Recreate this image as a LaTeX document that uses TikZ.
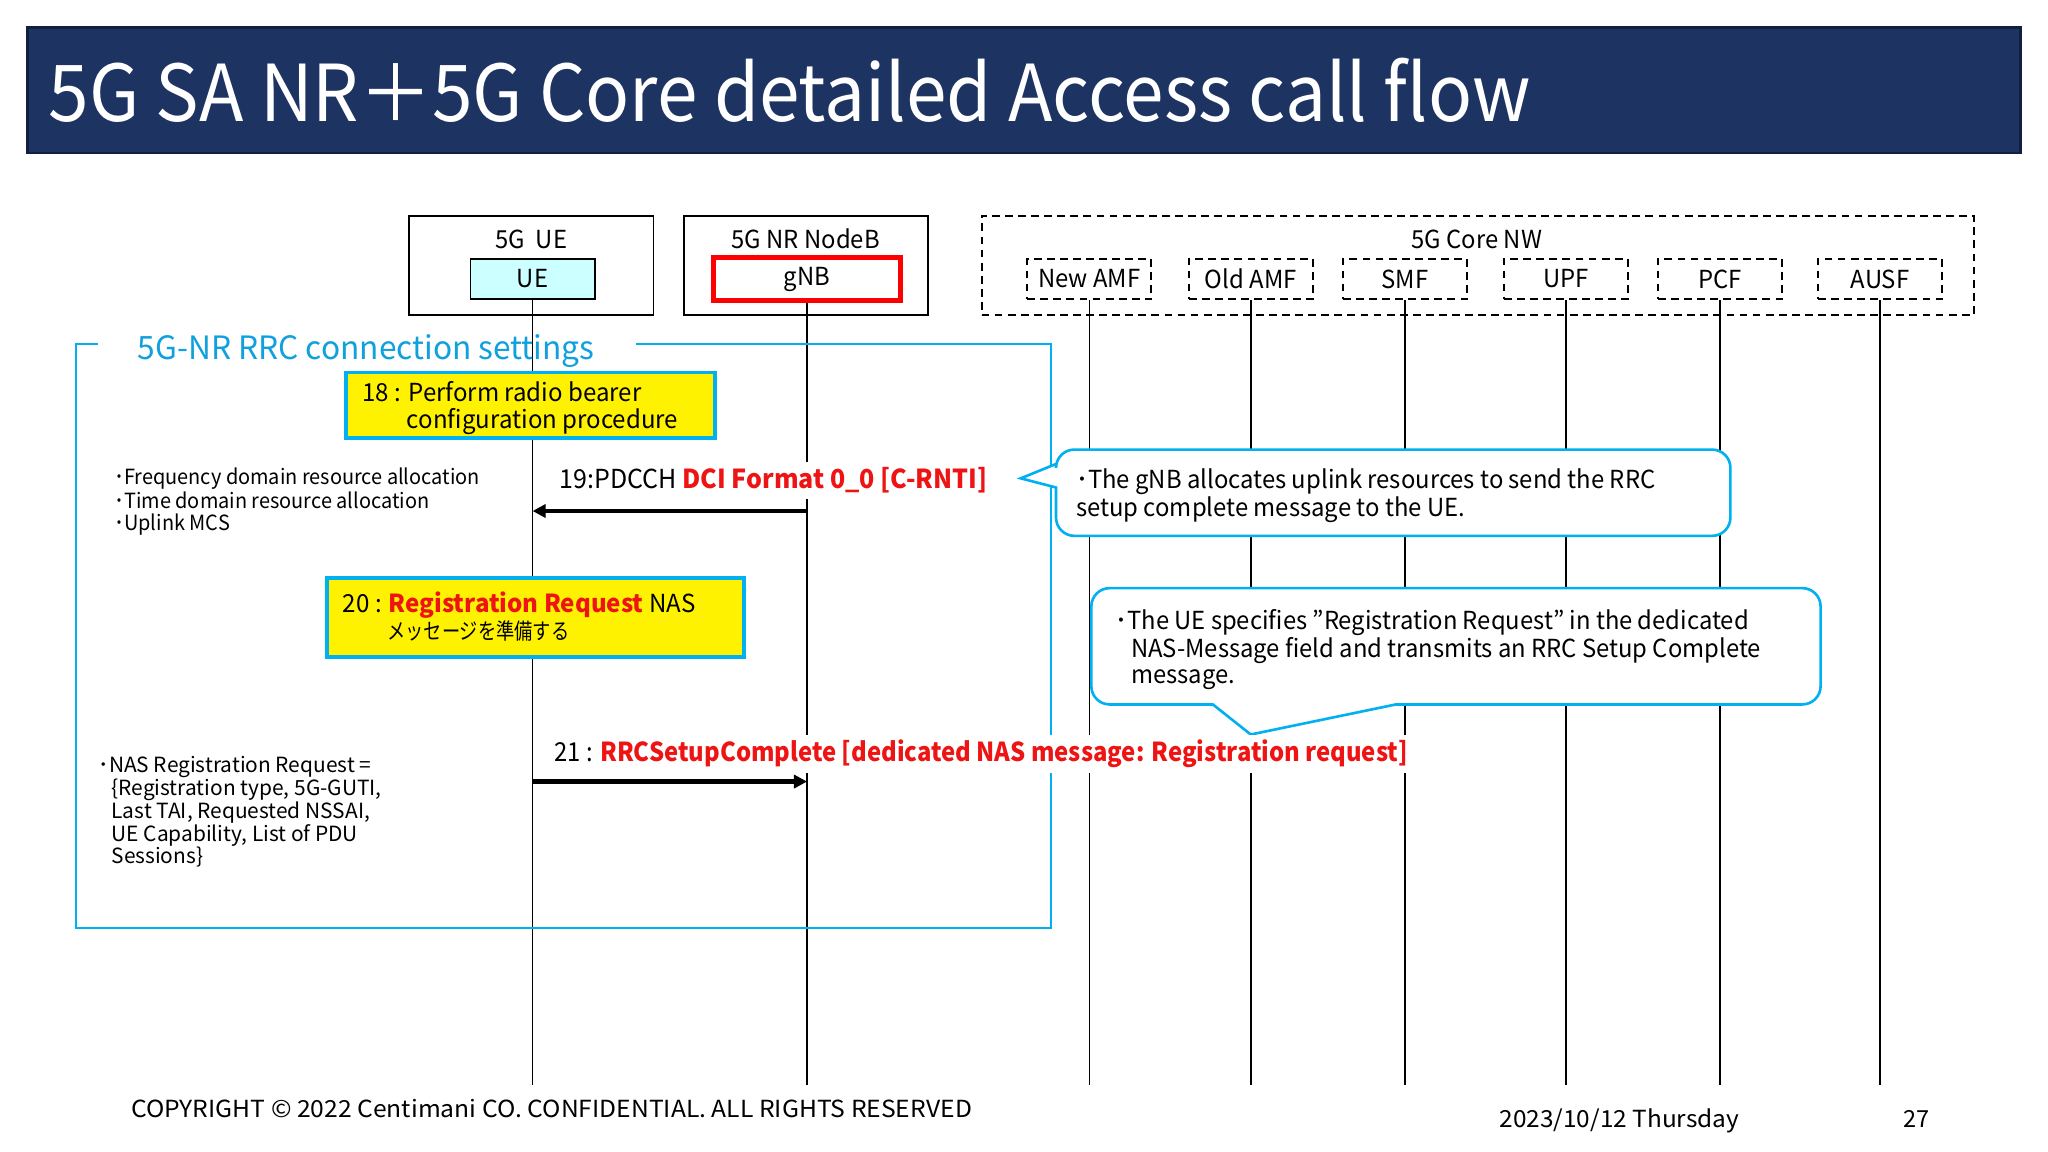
\documentclass[tikz,border=0pt]{standalone}
\usepackage{fontspec}
\setmainfont{Noto Sans CJK JP}
\usetikzlibrary{arrows.meta}
\definecolor{navy}{RGB}{29,51,98}
\definecolor{navyd}{RGB}{18,32,64}
\definecolor{cyanl}{RGB}{0,176,240}
\definecolor{cyant}{RGB}{16,160,222}
\definecolor{uefill}{RGB}{204,255,255}
\definecolor{msgred}{RGB}{238,20,20}
\newcommand\fz[1]{\fontsize{#1}{1.2\dimexpr#1\relax}\selectfont}
\newcommand\hs[2]{\scalebox{#1}[1]{#2}}
\tikzset{
  lbl/.style={inner sep=0pt, anchor=base west},
  hdr/.style={draw=black, line width=0.75pt, inner sep=0pt},
  subbox/.style={draw=black, line width=0.75pt, inner sep=0pt, minimum width=47.5pt, minimum height=15.5pt, font=\fz{9.5pt}},
  dsub/.style={subbox, dash pattern=on 3pt off 2pt},
  life/.style={draw=black, line width=0.65pt},
  stepbox/.style={fill=yellow, draw=cyanl, line width=1.5pt, inner sep=0pt},
  msg/.style={draw=black, line width=1.8pt, -{Triangle[length=5pt,width=5pt]}},
  callout/.style={draw=cyanl, fill=white, line width=1pt},
  rrcframe/.style={draw=cyanl, line width=0.9pt},
}
\begin{document}
\begin{tikzpicture}[x=0.5pt,y=-0.5pt]
\useasboundingbox (0,0) rectangle (1567,881.4);
% title bar
\node (bar) [fill=navy, draw=navyd, line width=1pt, minimum width=762.5pt, minimum height=48pt, inner sep=0pt] at (783.5,69) {};
\node (title) [lbl, text=white, font=\fz{30pt}] at (37,93) {\hs{0.93}{5G SA NR＋5G Core detailed Access call flow}};
% entity headers
\node (ueo) [hdr, minimum width=93.5pt, minimum height=38pt] at (406.5,203) {};
\node (ueh) [font=\fz{9.5pt}, inner sep=0pt, anchor=base] at (406.5,190) {\hs{0.96}{5G\ \ UE}};
\node (ue) [subbox, fill=uefill] at (407.5,213.5) {\hs{0.96}{UE}};
\node (gnbo) [hdr, minimum width=93.5pt, minimum height=38pt] at (616.5,203) {};
\node (gnbh) [font=\fz{9.5pt}, inner sep=0pt, anchor=base] at (616.5,190) {\hs{0.96}{5G NR NodeB}};
\node (gnb) [subbox, draw=red, line width=2pt, minimum width=71.5pt, minimum height=16.5pt] at (617.5,213.5) {\hs{0.96}{gNB}};
\node (core) [hdr, dash pattern=on 3pt off 2pt, minimum width=379.5pt, minimum height=38pt] at (1130.5,203) {};
\node (coreh) [font=\fz{9.5pt}, inner sep=0pt, anchor=base] at (1130,190) {\hs{0.96}{5G Core NW}};
\node (namf) [dsub] at (833.5,213.5) {\hs{0.96}{New AMF}};
\node (oamf) [dsub] at (957,213.5) {\hs{0.96}{Old AMF}};
\node (smf) [dsub] at (1075,213.5) {\hs{0.96}{SMF}};
\node (upf) [dsub] at (1198,213.5) {\hs{0.96}{UPF}};
\node (pcf) [dsub] at (1316,213.5) {\hs{0.96}{PCF}};
\node (ausf) [dsub] at (1438.5,213.5) {\hs{0.96}{AUSF}};
% lifelines
\coordinate (bot) at (0,830);
\foreach \n in {ue,gnb,namf,oamf,smf,upf,pcf,ausf}
  \draw[life] (\n.south) -- (\n.south |- bot);
% RRC frame
\coordinate (fr1) at (75,263);
\coordinate (fr2) at (58,263);
\coordinate (fr3) at (58,710);
\coordinate (fr4) at (804,710);
\coordinate (fr5) at (804,263);
\coordinate (fr6) at (487,263);
\draw[rrcframe] (fr1) -- (fr2) -- (fr3) -- (fr4) -- (fr5) -- (fr6);
\node (frt) [lbl, text=cyant, font=\fz{12.3pt}] at (105,275) {\hs{0.985}{5G-NR RRC connection settings}};
% step 18
\node (s18) [stepbox, minimum width=141pt, minimum height=25pt] at (406,310) {};
\node (s18a) [lbl, font=\fz{9.5pt}] at (277,307) {\hs{0.968}{18 : Perform radio bearer}};
\node (s18b) [lbl, font=\fz{9.5pt}] at (311,328) {\hs{0.968}{configuration procedure}};
% bullets
\node (b1) [lbl, font=\fz{8pt}] at (87,371) {\hs{0.953}{･Frequency domain resource allocation}};
\node (b2) [lbl, font=\fz{8pt}] at (87,389) {\hs{0.953}{･Time domain resource allocation}};
\node (b3) [lbl, font=\fz{8pt}] at (87,406) {\hs{0.953}{･Uplink MCS}};
% message 19
\node (m19) [lbl, fill=white, inner ysep=2pt, font=\fz{10pt}] at (428,374) {\hs{0.957}{19:PDCCH \textcolor{msgred}{\textbf{DCI Format 0\_0 [C-RNTI]}}}};
\coordinate (y19) at (0,391);
\draw[msg] (gnb.south |- y19) -- (ue.south |- y19);
% callout 1
\draw[callout] (808,355) -- (781,366) -- (808,373) [rounded corners=7pt] -- (808,410) -- (1324,410) -- (1324,344) -- (808,344) -- (808,355);
\node (c1a) [lbl, font=\fz{9.5pt}] at (823,374) {\hs{0.961}{･The gNB allocates uplink resources to send the RRC}};
\node (c1b) [lbl, font=\fz{9.5pt}] at (823,395) {\hs{0.961}{setup complete message to the UE.}};
% step 20
\node (s20) [stepbox, minimum width=159.5pt, minimum height=30.5pt] at (409.5,472.5) {};
\node (s20a) [lbl, font=\fz{9.5pt}] at (262,469) {\hs{0.969}{20 : \textcolor{msgred}{\textbf{Registration Request}} NAS}};
\node (s20b) [lbl, font=\fz{8.5pt}] at (296,489) {\hs{0.82}{メッセージを準備する}};
% callout 2
\draw[callout] (1068,539) -- (957,562) -- (928,539) [rounded corners=7pt] -- (835,539) -- (835,450) -- (1393,450) -- (1393,539) -- (1068,539);
\node (c2a) [lbl, font=\fz{9.5pt}] at (853,482) {\hs{0.959}{･The UE specifies "Registration Request" in the dedicated}};
\node (c2b) [lbl, font=\fz{9.5pt}] at (865,503) {\hs{0.959}{NAS-Message field and transmits an RRC Setup Complete}};
\node (c2c) [lbl, font=\fz{9.5pt}] at (865,523) {\hs{0.959}{message.}};
% message 21
\node (m21) [lbl, fill=white, inner ysep=2pt, font=\fz{10pt}] at (424,583) {\hs{0.912}{21 : \textcolor{msgred}{\textbf{RRCSetupComplete [dedicated NAS message: Registration request]}}}};
\coordinate (y21) at (0,598);
\draw[msg] (ue.south |- y21) -- (gnb.south |- y21);
% NAS text
\node (n1) [lbl, font=\fz{8pt}] at (75,591) {･NAS Registration Request =};
\node (n2) [lbl, font=\fz{8pt}] at (85,609) {\{Registration type, 5G-GUTI,};
\node (n3) [lbl, font=\fz{8pt}] at (85,626) {Last TAI, Requested NSSAI,};
\node (n4) [lbl, font=\fz{8pt}] at (85,644) {UE Capability, List of PDU};
\node (n5) [lbl, font=\fz{8pt}] at (85,661) {Sessions\}};
% footer
\node (f1) [lbl, font=\fz{9pt}] at (100,855) {\hs{1.049}{COPYRIGHT © 2022 Centimani CO. CONFIDENTIAL. ALL RIGHTS RESERVED}};
\node (f2) [lbl, font=\fz{9pt}] at (1147,863) {\hs{1.038}{2023/10/12 Thursday}};
\node (f3) [lbl, font=\fz{9pt}] at (1456,863) {27};
\end{tikzpicture}
\end{document}
